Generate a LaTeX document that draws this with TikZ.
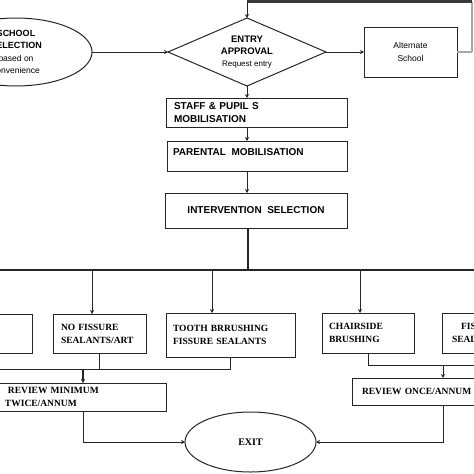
\documentclass[tikz,border=0pt]{standalone}
\usepackage{fontspec}
\setmainfont{Liberation Serif}
\setsansfont{Liberation Sans}
\usetikzlibrary{shapes.geometric,arrows.meta}
\begin{document}
\begin{tikzpicture}[x=1pt,y=-1pt,
  every node/.style={inner sep=0pt, outer sep=0pt},
  box/.style={draw=black!85, line width=1pt, rectangle},
  sanstxt/.style={font=\sffamily\bfseries\fontsize{10}{13}\selectfont},
  seriftxt/.style={font=\rmfamily\bfseries\fontsize{9.5}{13}\selectfont},
  arr/.style={draw=black!85, line width=0.9pt, -{Stealth[length=4pt,width=4pt]}},
  ln/.style={draw=black!85, line width=0.9pt},
]
\useasboundingbox (0,0) rectangle (474,474);
\clip (0,0) rectangle (474,474);

% top part
\node[ellipse, draw=black!85, line width=1pt, minimum width=152pt, minimum height=68pt, align=center,
      font=\sffamily\bfseries\fontsize{9}{12.5}\selectfont] (sel) at (16,52)
      {SCHOOL\\SELECTION\\{\mdseries\fontsize{8.5}{12.5}\selectfont based on}\\{\mdseries\fontsize{8.5}{12.5}\selectfont convenience}};
\node[diamond, shape aspect=2.32, draw=black!85, line width=1pt, minimum width=158pt, minimum height=68pt,
      align=center, font=\sffamily\bfseries\fontsize{9.5}{12}\selectfont] (app) at (247,52)
      {ENTRY\\APPROVAL\\{\mdseries\fontsize{8}{12}\selectfont Request entry}};
\node[box, minimum width=93pt, minimum height=50pt, align=center,
      font=\sffamily\fontsize{8.5}{13}\selectfont] (alt) at (410.5,52) {Alternate\\School};

\node[box, minimum height=29pt, text width=165pt, inner xsep=8pt, align=left, sanstxt] (staff) at (256.5,112.5)
      {STAFF \& PUPIL S\\MOBILISATION};
\node[box, minimum width=180pt, minimum height=30pt] (par) at (257,156) {};
\node[sanstxt, anchor=west] (partxt) at (173,152) {PARENTAL\ \ MOBILISATION};
\node[box, minimum width=182pt, minimum height=35pt, sanstxt] (int) at (256,210.5) {INTERVENTION\ \ SELECTION};

\draw[arr] (sel.east) -- (app.west);
\draw[arr] (app.east) -- (alt.west);
\coordinate (tr) at (472,52);
\coordinate (tl) at (247,1.5);
\draw[gray!70, line width=1.2pt] (alt.east) -- (tr);
\draw[gray!70, line width=2.5pt] (tr) -- (tr |- tl);
\draw[gray!45!black, line width=2.5pt] (tr |- tl) -- (tl);
\draw[arr] (tl) -- (app.north);
\draw[arr] (app.south) -- (app.south |- staff.north);
\draw[arr] (app.south |- staff.south) -- (app.south |- par.north);
\draw[arr] (app.south |- par.south) -- (app.south |- int.north);

% distribution
\coordinate (hj) at (248,270);
\coordinate (hl) at (0,270);
\coordinate (hr) at (474,270);
\draw[black!85, line width=2.2pt] (hj |- int.south) -- (hj);
\draw[ln, line width=1.3pt] (hl) -- (hr);
\coordinate (a2) at (92,270);
\coordinate (a3) at (212,270);
\coordinate (a4) at (360,270);

\node[box, minimum width=92pt, minimum height=39pt] (b1) at (-14,333.5) {};
\node[box, minimum height=39pt, text width=77pt, inner xsep=8pt, align=left, seriftxt] (b2) at (99.5,333.5)
      {NO FISSURE\\SEALANTS/ART};
\node[box, minimum height=44pt, text width=115pt, inner xsep=7pt, align=left, seriftxt] (b3) at (230.5,335)
      {TOOTH BRRUSHING\\FISSURE SEALANTS};
\node[box, minimum height=40pt, text width=78pt, inner xsep=7pt, align=left, seriftxt] (b4) at (368,333)
      {CHAIRSIDE\\BRUSHING};
\node[box, minimum height=40pt, text width=68pt, inner xsep=10pt, align=left, seriftxt] (b5) at (486,333)
      {\hspace*{9pt}FISSURE\\SEALANTS};

\draw[arr] (a2) -- (a2 |- b2.north);
\draw[arr] (a3) -- (a3 |- b3.north);
\draw[arr] (a4) -- (a4 |- b4.north);

% reviews
\node[box, minimum height=28pt, text width=146pt, inner xsep=15pt, align=left, seriftxt] (rv1) at (78,397)
      {\hspace*{3pt}REVIEW MINIMUM\\TWICE/ANNUM};
\node[box, minimum height=27pt, text width=168pt, inner xsep=10pt, align=left, seriftxt] (rv2) at (446,391.5)
      {REVIEW ONCE/ANNUM};
\node[ellipse, draw=black!85, line width=1pt, minimum width=131pt, minimum height=60pt,
      font=\rmfamily\bfseries\fontsize{10}{12}\selectfont] (exit) at (250.5,442) {EXIT};

\coordinate (j1) at (83,369);
\draw[ln] (b1.south) |- (b3.south |- j1) -- (b3.south);
\draw[ln] (b2.south) -- (b2.south |- j1);
\draw[arr, line width=1.4pt] (j1) -- (j1 |- rv1.north);
\draw[arr] (j1 |- rv1.south) |- (exit.west);

\coordinate (j2) at (443,365);
\draw[ln] (b4.south) |- (b5.south |- j2) -- (b5.south);
\draw[arr] (j2) -- (j2 |- rv2.north);
\draw[arr] (j2 |- rv2.south) |- (exit.east);
\end{tikzpicture}
\end{document}
